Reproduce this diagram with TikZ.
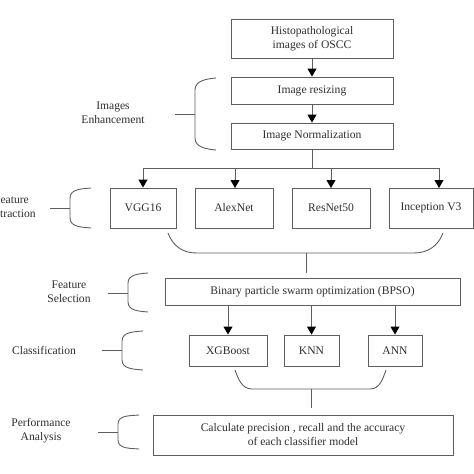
\documentclass[tikz,border=0pt]{standalone}
\usepackage{fontspec}
\setmainfont{Liberation Serif}
\usepackage{tikz}
\usetikzlibrary{arrows.meta,positioning,calc}
\definecolor{flowline}{HTML}{5E5E5E}
\definecolor{flowtext}{HTML}{2E2E2E}

\begin{document}
\begin{tikzpicture}[x=1pt,y=-1pt,font=\fontsize{11.6}{14}\selectfont,text=flowtext,
  stagebox/.style={draw=flowline,line width=0.9pt,inner sep=0pt,align=center,minimum height=#1},
  stagebox/.default=27pt,
  flow/.style={-{Triangle[length=8pt,width=9pt,color=black]},flowline,line width=0.9pt},
  brk/.style={flowline,line width=0.9pt},
  tag/.style={align=center,inner sep=0pt}]
\useasboundingbox (0,0) rectangle (474,474);
% main column
\node[stagebox=39pt,minimum width=162pt] (histo) at (312,38.5) {Histopathological\\images of OSCC};
\node[stagebox,minimum width=162pt] (resize) at (312,90.5) {Image resizing};
\node[stagebox=26pt,minimum width=162pt] (norm) at (312,136) {Image Normalization};
\draw[flow] (histo) -- (resize);
\draw[flow] (resize) -- (norm);
% feature extraction
\node[stagebox=40pt,minimum width=66pt] (vgg) at (143,208) {VGG16};
\node[stagebox=40pt,minimum width=78pt] (alex) at (234,208) {AlexNet};
\node[stagebox=40pt,minimum width=78pt] (resnet) at (331,208) {ResNet50};
\node[stagebox=40pt,minimum width=84pt] (incep) at (431,208) {Inception V3};
\coordinate (split) at (312,168);
\draw[flowline,line width=0.9pt] (norm.south) -- (split);
\draw[flowline,line width=0.9pt] (143,168) -- (439,168);
\draw[flow] (143,168) -- (vgg.north);
\draw[flow] (235,168) -- (235,188);
\draw[flow] (331,168) -- (331,188);
\draw[flow] (439,168) -- (439,188);
\draw[brk] (168,233) to[out=-70,in=180] (196,253) -- (414,253) to[out=0,in=-110] (443,233);
\draw[brk] (306,253) -- (306,273);
% feature selection
\node[stagebox,minimum width=295pt] (bpso) at (312.5,291.5) {Binary particle swarm optimization (BPSO)};
% classification
\node[stagebox=31pt,minimum width=78pt] (xgb) at (228,350.5) {XGBoost};
\node[stagebox=31pt,minimum width=55pt] (knn) at (311.5,350.5) {KNN};
\node[stagebox=31pt,minimum width=54pt] (ann) at (395,350.5) {ANN};
\draw[flow] (xgb |- bpso.south) -- (xgb);
\draw[flow] (knn |- bpso.south) -- (knn);
\draw[flow] (ann |- bpso.south) -- (ann);
\draw[brk] (235,370) to[out=-70,in=180] (252,389) -- (370,389) to[out=0,in=-110] (386,370);
\draw[brk] (311,389) -- (311,408);
% performance
\node[stagebox=40pt,minimum width=300pt] (perf) at (303,435) {Calculate precision , recall and the accuracy\\of each classifier model};
% stage labels
\node[tag] (enh) at (113,113) {Images\\Enhancement};
\node[tag] (ext) at (11.5,207) {Feature\\Extraction};
\node[tag] (sel) at (69,292) {Feature\\Selection};
\node[tag] (cls) at (44,350) {Classification};
\node[tag] (ana) at (41,431) {Performance\\Analysis};
\draw[brk] (216,78) to[out=185,in=90] (195,90) -- (195,138) to[out=-90,in=175] (216,150);
\draw[brk] (175,114) -- (195,114);
\draw[brk] (91,188) to[out=185,in=90] (70,198) -- (70,218) to[out=-90,in=175] (91,228);
\draw[brk] (50,208) -- (70,208);
\draw[brk] (148,273) to[out=185,in=90] (128,283) -- (128,302) to[out=-90,in=175] (148,312);
\draw[brk] (108,293) -- (128,293);
\draw[brk] (143,331) to[out=185,in=90] (122,341) -- (122,360) to[out=-90,in=175] (143,370);
\draw[brk] (102,350) -- (122,350);
\draw[brk] (139,415) to[out=185,in=90] (118,424) -- (118,440) to[out=-90,in=175] (139,449);
\draw[brk] (98,432) -- (118,432);
\end{tikzpicture}
\end{document}
